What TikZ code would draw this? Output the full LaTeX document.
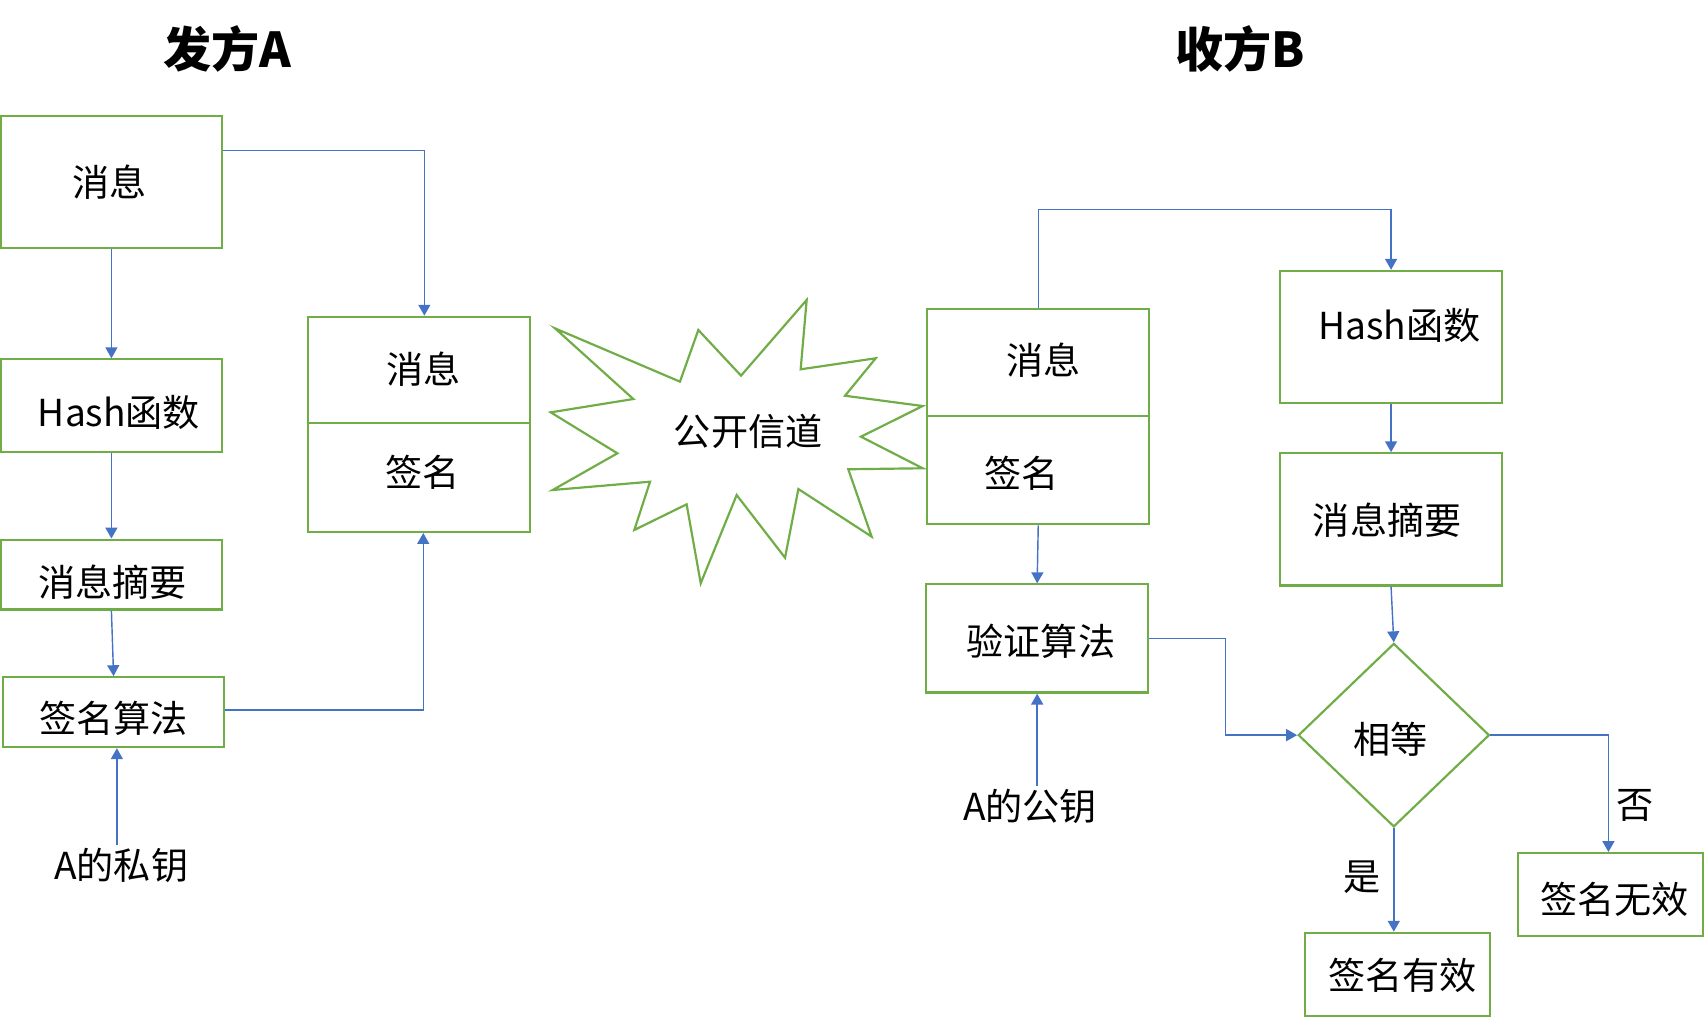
\documentclass[tikz,border=0pt]{standalone}
\usepackage{fontspec}
\setmainfont{Noto Sans CJK SC}
\usetikzlibrary{arrows.meta,shapes.geometric}
\definecolor{gbox}{HTML}{70AD47}
\definecolor{barr}{HTML}{4472C4}
\tikzset{
  box/.style={draw=gbox, line width=2pt, rectangle, inner sep=0pt},
  txt/.style={font=\fontsize{34}{40}\selectfont, inner sep=2pt},
  ttl/.style={font=\fontsize{44}{52}\selectfont\bfseries},
  arr/.style={draw=barr, line width=1.3pt, -{Triangle[length=10pt,width=11pt]}},
  starline/.style={draw=gbox, line width=2pt, line join=miter}
}
\begin{document}
\begin{tikzpicture}[x=1pt,y=-1pt]
\useasboundingbox (0,0) rectangle (1560,931);
% titles
\node[ttl] (tA) at (208,45) {发方A};
\node[ttl] (tB) at (1135,45) {收方B};
% left column
\node[box, minimum width=202pt, minimum height=121pt] (msgA) at (102,166.5) {};
\node[txt] (msgAt) at (100,167) {消息};
\node[box, minimum width=202pt, minimum height=85pt] (hashA) at (102,371.5) {};
\node[txt] (hashAt) at (109,378) {Hash函数};
\node[box, minimum width=202pt, minimum height=64pt] (digA) at (102,526) {};
\node[txt] (digAt) at (103,533) {消息摘要};
\node[box, minimum width=202pt, minimum height=64pt] (sigalgA) at (104,652) {};
\node[txt] (sigalgAt) at (104,658) {签名算法};
\node[txt] (privA) at (111,792) {A的私钥};
% composite left
\node[box, minimum width=203pt, minimum height=97pt] (msgM) at (383.5,338.5) {};
\node[txt] (msgMt) at (388,338) {消息};
\node[box, minimum width=203pt, minimum height=100pt] (sigM) at (383.5,437) {};
\node[txt] (sigMt) at (387,432) {签名};
% star
\draw[starline] (508.1,300.6) -- (622.5,349.4) -- (639.3,302.1) -- (678.4,343.9) -- (738.5,274.6) -- (733.0,338.1) -- (801.7,328.0) -- (773.6,362.3) -- (844.7,371.7) -- (788.2,399.8) -- (844.7,428.7) -- (776.6,429.6) -- (798.0,491.3) -- (730.9,447.7) -- (718.7,510.6) -- (674.4,453.2) -- (641.5,534.0) -- (628.6,461.7) -- (580.7,485.2) -- (595.1,441.0) -- (506.0,448.6) -- (565.2,415.0) -- (504.2,377.5) -- (579.8,365.3) -- cycle;
\node[txt] (chan) at (685,395) {公开信道};
% right side
\node[box, minimum width=203pt, minimum height=98pt] (msgB) at (950.5,332) {};
\node[txt] (msgBt) at (955,330) {消息};
\node[box, minimum width=203pt, minimum height=99pt] (sigB) at (950.5,430.5) {};
\node[txt] (sigBt) at (935,433) {签名};
\node[box, minimum width=203pt, minimum height=121pt] (hashB) at (1273.5,308.5) {};
\node[txt] (hashBt) at (1281,298) {Hash函数};
\node[box, minimum width=203pt, minimum height=121pt] (digB) at (1273.5,475.5) {};
\node[txt] (digBt) at (1270,476) {消息摘要};
\node[box, minimum width=203pt, minimum height=99pt] (verB) at (949.5,584.5) {};
\node[txt] (verBt) at (953,587) {验证算法};
\node[txt] (pubB) at (943,738) {A的公钥};
\node[draw=gbox, line width=2pt, diamond, shape aspect=1, inner sep=0pt, minimum width=175pt, minimum height=168pt] (eq) at (1276,673) {};
\node[txt] (eqt) at (1273,677) {相等};
\node[box, minimum width=169pt, minimum height=76pt] (invalid) at (1474.5,819) {};
\node[txt] (invalidt) at (1478,823) {签名无效};
\node[box, minimum width=169pt, minimum height=76pt] (valid) at (1279.5,892) {};
\node[txt] (validt) at (1284,893) {签名有效};
\node[txt] (no) at (1497,737) {否};
\node[txt] (yes) at (1247,803) {是};
% connectors left
\draw[arr] (msgA.south) -- (hashA.north);
\draw[arr] (hashA.south) -- (digA.north);
\draw[arr] (digA.south) -- (sigalgA.north);
\draw[arr] ([xshift=-4pt]privA.north) -- ([xshift=3pt]sigalgA.south);
\draw[arr] ([yshift=-33pt]msgA.north east) -| ([xshift=5pt]msgM.north);
\draw[arr] ([yshift=2pt]sigalgA.east) -| ([xshift=4pt]sigM.south);
% connectors right
\draw[arr] (msgB.north) -- ++(0,-90) -| (hashB.north);
\draw[arr] (sigB.south) -- (verB.north);
\draw[arr] (hashB.south) -- (digB.north);
\draw[arr] (digB.south) -- (eq.north);
\draw[arr] (pubB.north -| verB.south) -- (verB.south);
\draw[arr] (verB.east) -- ++(70,0) |- (eq.west);
\draw[arr] (eq.east) -| ([xshift=-2pt]invalid.north);
\draw[arr] (eq.south) -- (eq.south |- valid.north);
\end{tikzpicture}
\end{document}
